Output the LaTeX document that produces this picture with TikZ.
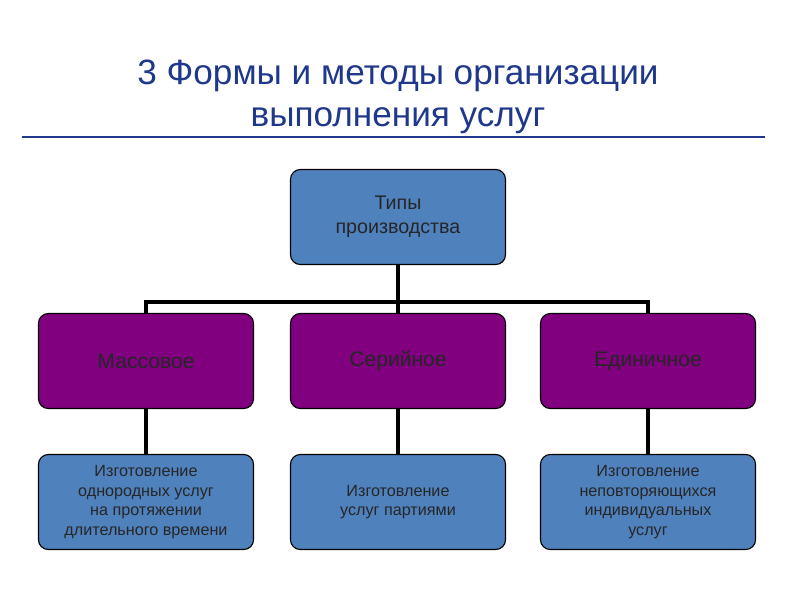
\documentclass[tikz,border=0pt]{standalone}
\usepackage{fontspec}
\setmainfont{Liberation Sans}
\usetikzlibrary{positioning}
\definecolor{boxblue}{RGB}{79, 129, 189}
\definecolor{boxplum}{RGB}{128, 0, 128}
\definecolor{titleblue}{RGB}{31, 56, 140}

\tikzset{
  box/.style={draw=black, rounded corners=7pt, minimum width=5.375cm, minimum height=2.375cm,
              align=center, text=black!85, thick},
  typebox/.style={box, fill=boxblue, font=\fontsize{14}{17}\selectfont},
  formbox/.style={box, fill=boxplum, font=\fontsize{15}{18}\selectfont},
  notebox/.style={box, fill=boxblue, font=\fontsize{11.5}{14}\selectfont},
  link/.style={line width=2.2pt}
}

\begin{document}
\begin{tikzpicture}[x=0.025cm, y=-0.025cm]
            \useasboundingbox (0,0) rectangle (800,600);
            % title
            \node[text=titleblue, font=\fontsize{25}{30}\selectfont, align=center] (title) at (398, 97)
                 {3 Формы и методы организации\\ выполнения услуг};
            \draw[titleblue, line width=1.5pt] (22,137) -- (765,137);
            % boxes
            \node[typebox] (types) at (398,217) {Типы\\ производства};
            \node[formbox] (mass) at (146,361) {Массовое};
            \node[formbox] (serial) at (398,361) {Серийное};
            \node[formbox] (single) at (648,361) {Единичное};
            \node[notebox] (massnote) at (146,502) {Изготовление\\ однородных услуг\\ на протяжении\\ длительного времени};
            \node[notebox] (serialnote) at (398,502) {Изготовление\\ услуг партиями};
            \node[notebox] (singlenote) at (648,502) {Изготовление\\ неповторяющихся\\ индивидуальных\\ услуг};
            % connectors
            \coordinate (bus) at (398,302);
            \draw[link] (types.south) -- (bus);
            \draw[link] (mass.north) |- (bus) -| (single.north);
            \draw[link] (bus) -- (serial.north);
            \draw[link] (mass) -- (massnote);
            \draw[link] (serial) -- (serialnote);
            \draw[link] (single) -- (singlenote);
\end{tikzpicture}
\end{document}
